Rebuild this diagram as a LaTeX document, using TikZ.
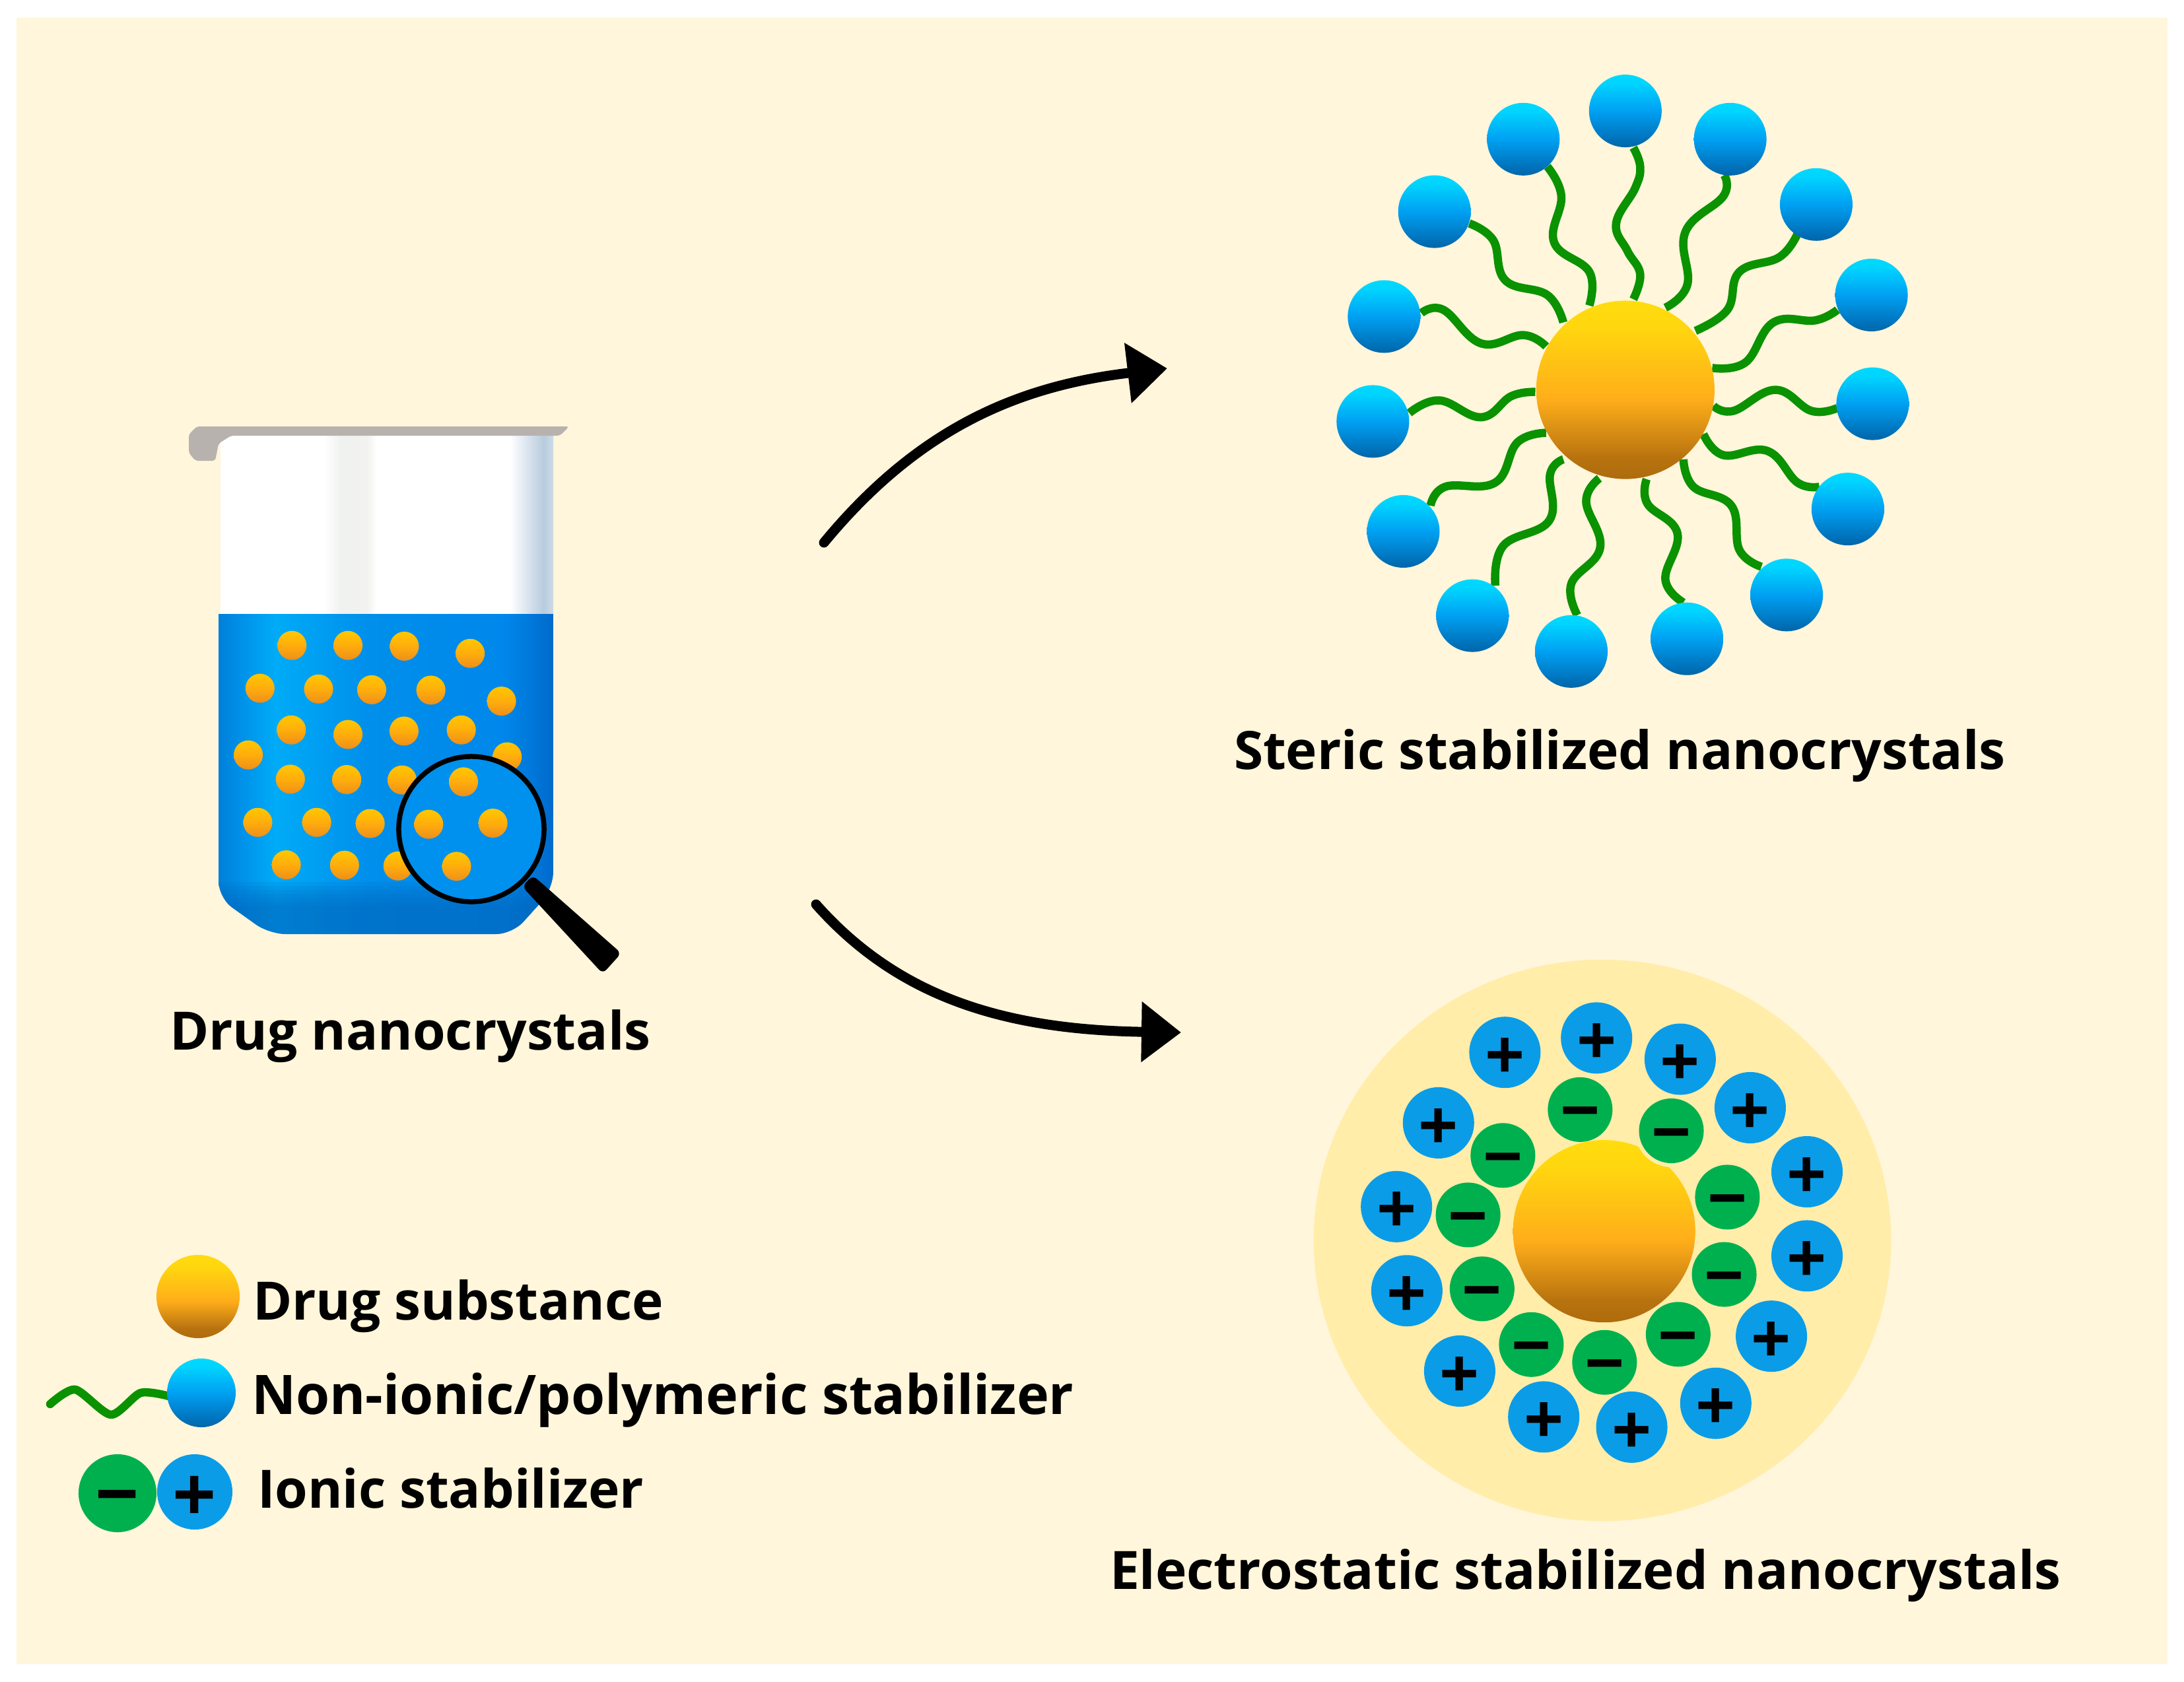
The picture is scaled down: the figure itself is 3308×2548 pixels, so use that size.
\documentclass[tikz,border=0pt]{standalone}
\usepackage{fontspec}
\setmainfont{Open Sans}
\usetikzlibrary{arrows.meta,shapes.geometric}
\definecolor{creamBg}{HTML}{FFF6DB}
\definecolor{haloC}{HTML}{FFEDA9}
\definecolor{greenIon}{HTML}{00B04F}
\definecolor{blueIon}{HTML}{0B9CE8}
\definecolor{chainC}{HTML}{0A9200}
\definecolor{rimC}{HTML}{B8B2AE}
\definecolor{lensC}{HTML}{0090EE}
\definecolor{bandC}{HTML}{0068BE}
\definecolor{coreA}{HTML}{AE6B0D}
\definecolor{coreB}{HTML}{B8730F}
\definecolor{coreC}{HTML}{FFAE1A}
\definecolor{coreD}{HTML}{FFD60F}
\definecolor{coreE}{HTML}{FFDC0D}
\definecolor{blueA}{HTML}{0066A8}
\definecolor{blueB}{HTML}{0070B8}
\definecolor{blueC}{HTML}{00A0F2}
\definecolor{blueD}{HTML}{00D4FF}
\definecolor{blueE}{HTML}{00D9FF}
\definecolor{dotA}{HTML}{ED8F1A}
\definecolor{dotB}{HTML}{FFAD0D}
\definecolor{dotC}{HTML}{FFC700}
\definecolor{waterA}{HTML}{0080D9}
\definecolor{waterB}{HTML}{0094EB}
\definecolor{waterC}{HTML}{00ABF7}
\definecolor{waterD}{HTML}{008FEB}
\definecolor{waterE}{HTML}{0087EB}
\definecolor{waterF}{HTML}{006BCC}
\definecolor{glassA}{HTML}{F0F2F0}
\definecolor{glassB}{HTML}{F2F2F0}
\definecolor{glassC}{HTML}{B8CCDE}
\definecolor{glassD}{HTML}{CCDBE6}
\pgfdeclareverticalshading{coreShade}{100bp}{color(0bp)=(coreA);color(25bp)=(coreA);color(31bp)=(coreB);color(47.5bp)=(coreC);color(67.5bp)=(coreD);color(75bp)=(coreE);color(100bp)=(coreE)}
\pgfdeclareverticalshading{blueShade}{100bp}{color(0bp)=(blueA);color(25bp)=(blueA);color(30bp)=(blueB);color(50bp)=(blueC);color(69bp)=(blueD);color(75bp)=(blueE);color(100bp)=(blueE)}
\pgfdeclareverticalshading{dotShade}{100bp}{color(0bp)=(dotA);color(25bp)=(dotA);color(50bp)=(dotB);color(75bp)=(dotC);color(100bp)=(dotC)}
\pgfdeclarehorizontalshading{waterShade}{100bp}{color(0bp)=(waterA);color(25bp)=(waterA);color(29bp)=(waterB);color(33.5bp)=(waterC);color(47.5bp)=(waterD);color(67.5bp)=(waterE);color(75bp)=(waterF);color(100bp)=(waterF)}
\pgfdeclarehorizontalshading{glassShade}{100bp}{color(0bp)=(white);color(40.5bp)=(white);color(43bp)=(glassA);color(47bp)=(glassB);color(48.5bp)=(white);color(68.5bp)=(white);color(73.5bp)=(glassC);color(75bp)=(glassD);color(100bp)=(glassD)}
\newcommand{\plusSign}{\raisebox{-0.39em}[0pt][0pt]{+}}
\newcommand{\minusSign}{\raisebox{-0.37em}[0pt][0pt]{−}}
\tikzset{
  disc/.style={circle,inner sep=0pt,outer sep=0pt,minimum size=#1},
  core/.style={disc=#1,shading=coreShade},
  polyball/.style={disc=#1,shading=blueShade},
  drugdot/.style={disc=0.44cm,shading=dotShade},
  plusball/.style={disc=#1,fill=blueIon,text=black,font=\fontsize{30}{30}\selectfont\bfseries},
  minusball/.style={disc=#1,fill=greenIon,text=black,font=\fontsize{30}{30}\selectfont\bfseries},
  polychain/.style={draw=chainC,line width=0.125cm,line join=round,smooth,tension=0.7},
  flow/.style={line width=0.15cm,line cap=round,-{Triangle[length=0.6cm,width=0.88cm]}},
  caption/.style={anchor=base west,inner sep=0pt,outer sep=0pt,text=black,font=\fontsize{22.8}{26}\selectfont\bfseries}
}
\begin{document}
\begin{tikzpicture}[x=0.01cm,y=-0.01cm]
\useasboundingbox (0,0) rectangle (3308,2548);
\fill[white] (0,0) rectangle (3308,2548);
\fill[creamBg] (25,27) rectangle (3283,2521);

%% beaker
\shade[shading=glassShade] (334,655) rectangle (838,932);
\fill[rimC,rounded corners=0.04cm] (298,646) -- (862,646) -- (848,660) -- (350,660) -- (331,672) -- (326,698) -- (296,698) -- (286,686) -- (286,658) -- cycle;
\begin{scope}
  \clip (331,930) -- (838,930) -- (838,1340) {[rounded corners=0.25cm] -- (838,1346) -- (776,1415) -- (408,1415) -- (331,1360)} -- (331,1340) -- cycle;
  \shade[shading=waterShade] (331,930) rectangle (838,1415);
  \foreach \i in {0,...,6}
    \fill[bandC,fill opacity=0.14] (331,{1336+6*\i}) rectangle (838,1415);
\end{scope}
\begin{scope}[shift={(250,600)},x=0.004785cm,y=-0.00574cm]
  \foreach \X/\Y [count=\i] in {401/658,578/658,756/660,964/679,300/771,485/773,653/775,840/776,1063/805,399/881,578/893,755/884,936/881,263/947,1081/952,396/1011,574/1012,749/1013,293/1125,479/1125,648/1128,383/1237,567/1238,736/1240}
    \node[drugdot] (dot\i) at (\X,\Y) {};
\end{scope}
\fill[black,rounded corners=0.08cm] (791,1343) -- (807,1326) -- (941,1444) -- (913,1475) -- cycle;
\node[disc=2.2cm,fill=lensC,draw=black,line width=0.075cm] (lens) at (714,1256) {};
\begin{scope}[shift={(250,600)},x=0.004785cm,y=-0.00574cm]
  \foreach \X/\Y [count=\i] in {943/1018,833/1130,1036/1127,921/1241}
    \node[drugdot] (lensdot\i) at (\X,\Y) {};
\end{scope}
\node[caption] (drugcap) at (257,1590) {Drug nanocrystals};

%% steric particle
\begin{scope}[shift={(1980,80)},x=0.00606cm,y=-0.006378cm]
  \draw[polychain] plot coordinates {(815,585) (832,525) (800,470) (772,405) (820,320) (832,270) (815,225)};
  \draw[polychain] plot coordinates {(895,605) (950,550) (945,425) (1040,340) (1042,290)};
  \draw[polychain] plot coordinates {(970,660) (1050,610) (1080,520) (1180,485) (1225,430)};
  \draw[polychain] plot coordinates {(1012,748) (1095,735) (1165,640) (1270,635) (1325,610)};
  \draw[polychain] plot coordinates {(1015,838) (1065,850) (1170,800) (1260,850) (1325,843)};
  \draw[polychain] plot coordinates {(990,905) (1040,955) (1150,945) (1225,1020) (1280,1030)};
  \draw[polychain] plot coordinates {(940,965) (965,1030) (1060,1075) (1080,1180) (1135,1220)};
  \draw[polychain] plot coordinates {(848,1012) (850,1070) (925,1140) (895,1250) (940,1305)};
  \draw[polychain] plot coordinates {(730,1010) (697,1065) (732,1175) (660,1260) (675,1335)};
  \draw[polychain] plot coordinates {(640,965) (607,1000) (605,1110) (490,1170) (470,1265)};
  \draw[polychain] plot coordinates {(597,902) (525,925) (470,1020) (345,1030) (308,1075)};
  \draw[polychain] plot coordinates {(570,805) (510,815) (435,865) (330,825) (255,855)};
  \draw[polychain] plot coordinates {(597,697) (540,670) (435,690) (340,610) (285,618)};
  \draw[polychain] plot coordinates {(640,640) (600,575) (495,540) (465,445) (405,405)};
  \draw[polychain] plot coordinates {(705,600) (705,520) (617,450) (635,340) (600,270)};
  \node[core=2.7cm] (sterCore) at (795,800) {};
  \foreach \X/\Y [count=\i] in {795/138,1057/205,1272/360,1410/575,1413/833,1351/1083,1198/1287,949/1391,660/1421,413/1336,240/1136,164/875,192/626,318/377,540/205}
    \node[polyball=1.1cm] (ster\i) at (\X,\Y) {};
\end{scope}
\node[caption] (stercap) at (1869,1165) {Steric stabilized nanocrystals};

%% electrostatic particle
\node[ellipse,inner sep=0pt,outer sep=0pt,minimum width=8.74cm,minimum height=8.5cm,fill=haloC] (halo) at (2427,1879) {};
\begin{scope}[shift={(1960,1430)},x=0.00606cm,y=-0.00574cm]
  \node[core=2.76cm] (elecCore) at (775,758) {};
  \node[disc=1.1cm,fill=haloC] (gap) at (943,493) {};
  \foreach \X/\Y [count=\i] in {715/437,943/493,1083/668,1075/872,960/1030,776/1104,593/1057,470/910,435/715,522/558}
    \node[minusball=0.98cm] (neg\i) at (\X,\Y) {\minusSign};
  \foreach \X/\Y [count=\i] in {756/248,965/304,1140/432,1282/601,1282/823,1193/1035,1054/1212,844/1275,624/1248,414/1127,282/915,256/693,361/472,527/286}
    \node[plusball=1.08cm] (pos\i) at (\X,\Y) {\plusSign};
\end{scope}
\node[caption] (eleccap) at (1681,2407) {Electrostatic stabilized nanocrystals};

%% flow arrows
\coordinate (upStart) at (1248,822);
\coordinate (upEnd) at (1768,558);
\coordinate (downStart) at (1236,1370);
\coordinate (downEnd) at (1789,1564);
\draw[flow] (upStart) .. controls (1390,650) and (1540,585) .. (upEnd);
\draw[flow] (downStart) .. controls (1360,1510) and (1520,1560) .. (downEnd);

%% legend
\node[core=1.26cm] (legCore) at (300,1964) {};
\node[caption] (leg1) at (383,1999) {Drug substance};
\draw[polychain,tension=0.45,line cap=round] plot coordinates {(76,2127) (114,2105) (168,2143) (213,2110) (256,2115)};
\node[polyball=1.04cm] (legBall) at (305,2110) {};
\node[caption,font=\fontsize{23.5}{26}\selectfont\bfseries] (leg2) at (381,2142) {Non-ionic/polymeric stabilizer};
\node[minusball=1.18cm,font=\fontsize{33}{33}\selectfont\bfseries] (legNeg) at (178,2262) {\minusSign};
\node[plusball=1.14cm,font=\fontsize{33}{33}\selectfont\bfseries] (legPos) at (295,2260) {\plusSign};
\node[caption] (leg3) at (390,2284) {Ionic stabilizer};
\end{tikzpicture}
\end{document}
